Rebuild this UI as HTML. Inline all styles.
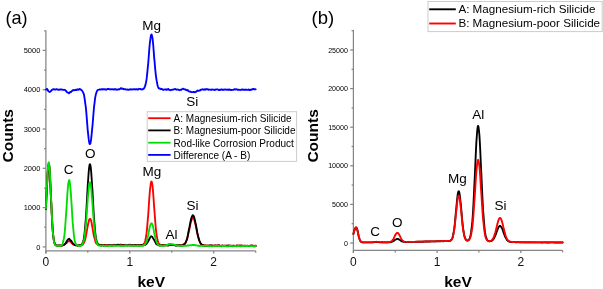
<!DOCTYPE html>
<html><head><meta charset="utf-8"><title>EDS spectra</title>
<style>html,body{margin:0;padding:0;background:#fff}svg{display:block}</style></head>
<body>
<svg width="603" height="289" viewBox="0 0 603 289" font-family="'Liberation Sans', sans-serif">
<rect width="603" height="289" fill="#fff"/>
<g stroke="#858585" stroke-width="1.25" fill="none">
<path d="M45.9,30.4V253.4"/>
<path d="M45.9,250.8H255.7"/>
<path d="M42.7,246.9H45.9"/>
<path d="M42.7,207.6H45.9"/>
<path d="M42.7,168.3H45.9"/>
<path d="M42.7,129.0H45.9"/>
<path d="M42.7,89.7H45.9"/>
<path d="M42.7,50.4H45.9"/>
<path d="M44.1,227.2H45.9"/>
<path d="M44.1,188.0H45.9"/>
<path d="M44.1,148.7H45.9"/>
<path d="M44.1,109.4H45.9"/>
<path d="M44.1,70.1H45.9"/>
<path d="M44.1,30.8H45.9"/>
<path d="M45.9,250.8V253.4"/>
<path d="M129.8,250.8V253.4"/>
<path d="M213.7,250.8V253.4"/>
<path d="M87.8,250.8V252.8"/>
<path d="M171.8,250.8V252.8"/>
<path d="M255.7,250.8V252.8"/>
</g>
<g font-size="7.5" fill="#000" text-anchor="end">
<text x="40.4" y="249.6">0</text>
<text x="40.4" y="210.3">1000</text>
<text x="40.4" y="171.0">2000</text>
<text x="40.4" y="131.7">3000</text>
<text x="40.4" y="92.4">4000</text>
<text x="40.4" y="53.1">5000</text>
</g>
<g font-size="12" fill="#111" text-anchor="middle">
<text x="45.9" y="266.0">0</text>
<text x="129.8" y="266.0">1</text>
<text x="213.7" y="266.0">2</text>
</g>
<g stroke="#858585" stroke-width="1.25" fill="none">
<path d="M353.4,29.9V253.0"/>
<path d="M353.4,250.4H562.6"/>
<path d="M350.2,243.0H353.4"/>
<path d="M350.2,204.4H353.4"/>
<path d="M350.2,165.8H353.4"/>
<path d="M350.2,127.2H353.4"/>
<path d="M350.2,88.6H353.4"/>
<path d="M350.2,50.0H353.4"/>
<path d="M351.6,223.7H353.4"/>
<path d="M351.6,185.1H353.4"/>
<path d="M351.6,146.5H353.4"/>
<path d="M351.6,107.9H353.4"/>
<path d="M351.6,69.3H353.4"/>
<path d="M351.6,30.7H353.4"/>
<path d="M353.4,250.4V253.0"/>
<path d="M437.1,250.4V253.0"/>
<path d="M520.8,250.4V253.0"/>
<path d="M395.2,250.4V252.4"/>
<path d="M478.9,250.4V252.4"/>
<path d="M562.6,250.4V252.4"/>
</g>
<g font-size="7.1" fill="#000" text-anchor="end">
<text x="347.9" y="245.6">0</text>
<text x="347.9" y="207.0">5000</text>
<text x="347.9" y="168.4">10000</text>
<text x="347.9" y="129.8">15000</text>
<text x="347.9" y="91.2">20000</text>
<text x="347.9" y="52.6">25000</text>
</g>
<g font-size="12" fill="#111" text-anchor="middle">
<text x="353.4" y="266.0">0</text>
<text x="437.1" y="266.0">1</text>
<text x="520.8" y="266.0">2</text>
</g>
<polyline points="45.9,209.0 46.3,200.4 46.7,191.1 47.2,182.5 47.6,175.1 48.0,169.3 48.4,165.8 48.8,164.5 49.3,166.5 49.7,171.3 50.1,178.6 50.5,187.3 50.9,196.7 51.4,206.0 51.8,214.6 52.2,222.2 52.6,228.5 53.0,233.7 53.5,237.5 53.9,240.3 54.3,242.1 54.7,243.5 55.1,244.4 55.5,244.9 56.0,245.0 56.4,245.2 56.8,245.3 57.2,245.4 57.6,245.5 58.1,245.5 58.5,245.5 58.9,245.4 59.3,245.4 59.7,245.4 60.2,245.7 60.6,245.6 61.0,245.7 61.4,245.6 61.8,245.6 62.3,245.4 62.7,245.3 63.1,245.3 63.5,245.2 63.9,245.0 64.4,244.6 64.8,244.3 65.2,244.0 65.6,243.6 66.0,243.3 66.5,243.0 66.9,242.6 67.3,242.1 67.7,241.6 68.1,241.5 68.6,241.3 69.0,241.4 69.4,241.2 69.8,241.3 70.2,241.5 70.7,241.9 71.1,242.4 71.5,242.6 71.9,243.2 72.3,243.6 72.7,244.0 73.2,244.1 73.6,244.5 74.0,244.8 74.4,245.1 74.8,245.1 75.3,245.0 75.7,245.2 76.1,245.2 76.5,245.4 76.9,245.2 77.4,245.3 77.8,245.2 78.2,245.5 78.6,245.3 79.0,245.2 79.5,245.0 79.9,245.0 80.3,245.0 80.7,245.1 81.1,245.2 81.6,245.2 82.0,244.9 82.4,244.7 82.8,244.4 83.2,244.1 83.7,243.3 84.1,242.4 84.5,241.5 84.9,240.4 85.3,238.9 85.8,236.9 86.2,234.6 86.6,232.4 87.0,230.1 87.4,227.8 87.8,225.5 88.3,223.2 88.7,221.5 89.1,220.0 89.5,219.2 89.9,218.8 90.4,219.1 90.8,219.7 91.2,221.0 91.6,222.7 92.0,225.3 92.5,227.8 92.9,230.4 93.3,232.5 93.7,235.0 94.1,236.8 94.6,238.6 95.0,240.0 95.4,241.4 95.8,242.6 96.2,243.3 96.7,243.7 97.1,243.9 97.5,244.2 97.9,244.4 98.3,244.8 98.8,244.7 99.2,244.7 99.6,244.7 100.0,244.9 100.4,245.0 100.9,245.2 101.3,245.0 101.7,244.9 102.1,244.9 102.5,245.1 103.0,245.1 103.4,245.1 103.8,245.1 104.2,245.1 104.6,244.9 105.0,244.8 105.5,244.9 105.9,245.2 106.3,245.3 106.7,245.2 107.1,245.0 107.6,244.9 108.0,244.9 108.4,245.0 108.8,245.0 109.2,245.1 109.7,245.2 110.1,245.2 110.5,245.1 110.9,245.1 111.3,245.2 111.8,245.1 112.2,245.0 112.6,245.0 113.0,245.0 113.4,245.0 113.9,244.9 114.3,244.7 114.7,245.0 115.1,244.9 115.5,245.1 116.0,244.9 116.4,244.9 116.8,244.8 117.2,244.7 117.6,244.8 118.1,244.7 118.5,244.8 118.9,244.8 119.3,244.9 119.7,244.9 120.2,244.7 120.6,244.7 121.0,244.5 121.4,244.7 121.8,244.8 122.2,245.0 122.7,244.9 123.1,244.9 123.5,244.9 123.9,245.0 124.3,244.8 124.8,244.9 125.2,244.8 125.6,245.0 126.0,245.0 126.4,245.1 126.9,245.2 127.3,245.1 127.7,244.9 128.1,244.8 128.5,244.8 129.0,244.7 129.4,244.7 129.8,244.7 130.2,244.9 130.6,245.1 131.1,245.0 131.5,245.2 131.9,245.0 132.3,245.0 132.7,244.8 133.2,244.8 133.6,244.9 134.0,245.0 134.4,245.0 134.8,245.0 135.3,245.0 135.7,245.0 136.1,245.0 136.5,245.0 136.9,245.1 137.4,245.2 137.8,245.2 138.2,245.3 138.6,245.0 139.0,244.8 139.4,244.9 139.9,245.0 140.3,245.1 140.7,245.0 141.1,245.0 141.5,245.0 142.0,245.0 142.4,245.0 142.8,244.8 143.2,244.4 143.6,244.2 144.1,243.6 144.5,242.8 144.9,241.7 145.3,240.4 145.7,238.5 146.2,236.0 146.6,232.6 147.0,228.8 147.4,224.3 147.8,219.4 148.3,213.8 148.7,207.6 149.1,201.5 149.5,195.8 149.9,190.8 150.4,186.5 150.8,183.2 151.2,181.7 151.6,181.4 152.0,183.0 152.5,185.7 152.9,189.9 153.3,194.8 153.7,200.5 154.1,206.4 154.6,212.6 155.0,218.4 155.4,223.6 155.8,228.0 156.2,231.8 156.6,235.1 157.1,237.7 157.5,239.8 157.9,241.4 158.3,242.6 158.7,243.4 159.2,243.9 159.6,244.3 160.0,244.5 160.4,244.7 160.8,244.9 161.3,244.8 161.7,244.8 162.1,244.9 162.5,245.1 162.9,245.0 163.4,245.2 163.8,245.1 164.2,245.1 164.6,245.0 165.0,244.9 165.5,244.9 165.9,244.9 166.3,245.0 166.7,245.2 167.1,245.1 167.6,245.0 168.0,244.9 168.4,244.6 168.8,244.8 169.2,244.6 169.7,244.7 170.1,244.9 170.5,245.0 170.9,245.0 171.3,244.9 171.8,245.0 172.2,245.0 172.6,245.0 173.0,245.1 173.4,245.2 173.8,245.1 174.3,245.0 174.7,244.9 175.1,244.9 175.5,244.9 175.9,245.1 176.4,245.4 176.8,245.4 177.2,245.2 177.6,245.1 178.0,245.1 178.5,245.2 178.9,245.2 179.3,245.3 179.7,245.3 180.1,245.4 180.6,245.5 181.0,245.5 181.4,245.5 181.8,245.4 182.2,245.2 182.7,245.0 183.1,244.5 183.5,244.3 183.9,244.1 184.3,244.0 184.8,243.6 185.2,243.1 185.6,242.4 186.0,241.7 186.4,240.9 186.9,239.8 187.3,238.4 187.7,236.5 188.1,234.9 188.5,233.1 188.9,231.2 189.4,229.2 189.8,227.0 190.2,225.1 190.6,223.1 191.0,221.5 191.5,220.2 191.9,219.0 192.3,218.3 192.7,217.9 193.1,218.0 193.6,218.1 194.0,219.0 194.4,220.4 194.8,222.0 195.2,223.7 195.7,225.5 196.1,227.6 196.5,229.5 196.9,231.5 197.3,233.5 197.8,235.7 198.2,237.4 198.6,238.7 199.0,239.9 199.4,241.0 199.9,242.2 200.3,242.9 200.7,243.5 201.1,244.0 201.5,244.4 202.0,244.7 202.4,244.8 202.8,245.1 203.2,245.1 203.6,245.2 204.1,245.2 204.5,245.5 204.9,245.6 205.3,245.5 205.7,245.5 206.1,245.4 206.6,245.4 207.0,245.3 207.4,245.3 207.8,245.4 208.2,245.7 208.7,245.7 209.1,245.7 209.5,245.5 209.9,245.5 210.3,245.6 210.8,245.6 211.2,245.8 211.6,245.6 212.0,245.6 212.4,245.5 212.9,245.8 213.3,245.8 213.7,245.6 214.1,245.5 214.5,245.5 215.0,245.5 215.4,245.5 215.8,245.3 216.2,245.4 216.6,245.4 217.1,245.4 217.5,245.4 217.9,245.6 218.3,245.5 218.7,245.6 219.2,245.3 219.6,245.7 220.0,245.6 220.4,245.7 220.8,245.6 221.3,245.6 221.7,245.6 222.1,245.5 222.5,245.6 222.9,245.7 223.3,245.7 223.8,245.5 224.2,245.5 224.6,245.6 225.0,245.7 225.4,245.6 225.9,245.7 226.3,245.8 226.7,245.9 227.1,245.9 227.5,245.9 228.0,245.9 228.4,245.7 228.8,245.8 229.2,245.7 229.6,245.9 230.1,245.8 230.5,246.0 230.9,246.0 231.3,246.0 231.7,245.9 232.2,245.8 232.6,245.9 233.0,245.8 233.4,245.8 233.8,245.7 234.3,245.7 234.7,245.7 235.1,245.8 235.5,245.9 235.9,245.8 236.4,245.6 236.8,245.5 237.2,245.6 237.6,245.7 238.0,245.7 238.5,245.8 238.9,245.7 239.3,245.7 239.7,245.7 240.1,245.8 240.5,245.9 241.0,245.7 241.4,245.4 241.8,245.4 242.2,245.6 242.6,246.0 243.1,246.0 243.5,246.0 243.9,245.9 244.3,245.8 244.7,246.0 245.2,245.9 245.6,246.0 246.0,245.9 246.4,245.9 246.8,245.8 247.3,245.8 247.7,246.0 248.1,246.0 248.5,245.9 248.9,245.9 249.4,246.0 249.8,246.0 250.2,245.9 250.6,245.8 251.0,245.7 251.5,245.6 251.9,245.5 252.3,245.5 252.7,245.6 253.1,245.6 253.6,245.6 254.0,245.8 254.4,245.8 254.8,245.9 255.2,245.6 255.7,245.7" fill="none" stroke="#ff0000" stroke-width="1.85" stroke-linejoin="round" stroke-linecap="round"/>
<polyline points="45.9,208.6 46.3,199.7 46.7,190.7 47.2,182.0 47.6,174.3 48.0,168.4 48.4,164.8 48.8,163.8 49.3,166.0 49.7,170.8 50.1,178.1 50.5,186.7 50.9,196.2 51.4,205.7 51.8,214.5 52.2,222.2 52.6,228.6 53.0,233.8 53.5,237.8 53.9,240.6 54.3,242.3 54.7,243.5 55.1,244.4 55.5,245.0 56.0,245.4 56.4,245.6 56.8,245.7 57.2,245.7 57.6,245.7 58.1,245.8 58.5,245.7 58.9,245.5 59.3,245.4 59.7,245.5 60.2,245.6 60.6,245.5 61.0,245.7 61.4,245.5 61.8,245.6 62.3,245.3 62.7,245.3 63.1,245.2 63.5,245.1 63.9,244.8 64.4,244.6 64.8,244.2 65.2,243.8 65.6,243.4 66.0,242.6 66.5,241.8 66.9,241.0 67.3,240.4 67.7,239.9 68.1,239.4 68.6,239.0 69.0,238.7 69.4,238.9 69.8,239.6 70.2,240.1 70.7,240.3 71.1,240.7 71.5,241.2 71.9,241.9 72.3,242.6 72.7,243.2 73.2,243.7 73.6,244.0 74.0,244.4 74.4,244.8 74.8,245.0 75.3,245.3 75.7,245.2 76.1,245.1 76.5,245.2 76.9,245.5 77.4,245.8 77.8,245.7 78.2,245.4 78.6,245.3 79.0,245.4 79.5,245.5 79.9,245.5 80.3,245.4 80.7,245.1 81.1,245.0 81.6,244.6 82.0,244.1 82.4,243.3 82.8,242.4 83.2,241.2 83.7,239.4 84.1,237.0 84.5,233.8 84.9,229.8 85.3,225.1 85.8,219.7 86.2,213.5 86.6,206.6 87.0,199.2 87.4,191.7 87.8,184.3 88.3,177.7 88.7,172.0 89.1,167.9 89.5,165.2 89.9,164.2 90.4,165.1 90.8,167.8 91.2,172.0 91.6,177.5 92.0,184.2 92.5,191.3 92.9,198.7 93.3,206.2 93.7,213.3 94.1,219.7 94.6,225.2 95.0,230.1 95.4,233.9 95.8,237.1 96.2,239.3 96.7,241.2 97.1,242.4 97.5,243.4 97.9,244.2 98.3,244.6 98.8,244.8 99.2,245.0 99.6,245.0 100.0,245.2 100.4,245.2 100.9,245.3 101.3,245.4 101.7,245.2 102.1,245.4 102.5,245.3 103.0,245.5 103.4,245.5 103.8,245.5 104.2,245.4 104.6,245.3 105.0,245.4 105.5,245.4 105.9,245.5 106.3,245.6 106.7,245.6 107.1,245.6 107.6,245.5 108.0,245.5 108.4,245.5 108.8,245.4 109.2,245.3 109.7,245.1 110.1,245.0 110.5,245.2 110.9,245.3 111.3,245.5 111.8,245.6 112.2,245.7 112.6,245.6 113.0,245.5 113.4,245.2 113.9,245.0 114.3,245.2 114.7,245.3 115.1,245.5 115.5,245.3 116.0,245.4 116.4,245.2 116.8,245.0 117.2,244.9 117.6,244.8 118.1,245.0 118.5,245.1 118.9,245.2 119.3,245.1 119.7,245.1 120.2,245.2 120.6,245.5 121.0,245.5 121.4,245.4 121.8,245.3 122.2,245.3 122.7,245.5 123.1,245.5 123.5,245.4 123.9,245.2 124.3,245.2 124.8,245.4 125.2,245.3 125.6,245.3 126.0,245.2 126.4,245.3 126.9,245.5 127.3,245.5 127.7,245.5 128.1,245.3 128.5,245.2 129.0,245.1 129.4,245.3 129.8,245.5 130.2,245.5 130.6,245.3 131.1,245.4 131.5,245.6 131.9,245.5 132.3,245.4 132.7,245.2 133.2,245.5 133.6,245.3 134.0,245.6 134.4,245.5 134.8,245.4 135.3,245.2 135.7,245.1 136.1,245.4 136.5,245.3 136.9,245.4 137.4,245.3 137.8,245.4 138.2,245.4 138.6,245.3 139.0,245.5 139.4,245.4 139.9,245.5 140.3,245.4 140.7,245.3 141.1,245.2 141.5,245.2 142.0,245.3 142.4,245.4 142.8,245.4 143.2,245.3 143.6,245.2 144.1,245.1 144.5,245.0 144.9,244.9 145.3,244.7 145.7,244.5 146.2,244.1 146.6,243.6 147.0,243.1 147.4,242.5 147.8,242.0 148.3,241.2 148.7,240.5 149.1,239.5 149.5,238.8 149.9,237.9 150.4,237.1 150.8,236.6 151.2,236.3 151.6,236.5 152.0,236.7 152.5,237.2 152.9,238.0 153.3,238.6 153.7,239.2 154.1,239.8 154.6,240.7 155.0,241.5 155.4,242.3 155.8,243.0 156.2,243.8 156.6,244.3 157.1,244.6 157.5,244.6 157.9,244.8 158.3,245.0 158.7,245.4 159.2,245.4 159.6,245.6 160.0,245.5 160.4,245.5 160.8,245.3 161.3,245.3 161.7,245.4 162.1,245.6 162.5,245.6 162.9,245.3 163.4,245.3 163.8,245.4 164.2,245.5 164.6,245.3 165.0,245.3 165.5,245.3 165.9,245.3 166.3,245.3 166.7,245.2 167.1,245.3 167.6,245.6 168.0,245.6 168.4,245.5 168.8,245.2 169.2,245.0 169.7,244.8 170.1,244.9 170.5,244.9 170.9,244.8 171.3,244.9 171.8,244.8 172.2,244.9 172.6,244.8 173.0,244.8 173.4,245.0 173.8,245.0 174.3,245.2 174.7,245.3 175.1,245.5 175.5,245.4 175.9,245.5 176.4,245.4 176.8,245.6 177.2,245.4 177.6,245.3 178.0,245.2 178.5,245.2 178.9,245.3 179.3,245.1 179.7,245.2 180.1,245.4 180.6,245.5 181.0,245.5 181.4,245.4 181.8,245.5 182.2,245.6 182.7,245.4 183.1,245.3 183.5,244.8 183.9,244.5 184.3,244.1 184.8,243.9 185.2,243.5 185.6,242.7 186.0,241.7 186.4,240.5 186.9,239.2 187.3,237.7 187.7,236.0 188.1,233.9 188.5,231.7 188.9,229.5 189.4,227.4 189.8,225.3 190.2,223.1 190.6,221.2 191.0,219.2 191.5,217.8 191.9,216.6 192.3,215.8 192.7,215.2 193.1,215.3 193.6,215.9 194.0,216.8 194.4,218.0 194.8,219.7 195.2,221.6 195.7,223.7 196.1,225.7 196.5,227.9 196.9,230.2 197.3,232.7 197.8,234.8 198.2,236.4 198.6,237.8 199.0,239.2 199.4,240.6 199.9,241.8 200.3,242.7 200.7,243.4 201.1,243.8 201.5,244.4 202.0,244.8 202.4,245.2 202.8,245.2 203.2,245.4 203.6,245.5 204.1,245.7 204.5,245.6 204.9,245.6 205.3,245.6 205.7,245.8 206.1,245.9 206.6,245.8 207.0,245.8 207.4,245.8 207.8,245.9 208.2,245.6 208.7,245.6 209.1,245.6 209.5,245.6 209.9,245.5 210.3,245.6 210.8,245.5 211.2,245.6 211.6,245.4 212.0,245.7 212.4,245.6 212.9,245.9 213.3,245.9 213.7,245.9 214.1,245.9 214.5,245.7 215.0,245.9 215.4,245.7 215.8,245.7 216.2,245.7 216.6,245.8 217.1,245.8 217.5,245.7 217.9,245.7 218.3,245.6 218.7,245.4 219.2,245.5 219.6,245.7 220.0,245.8 220.4,245.9 220.8,246.1 221.3,246.2 221.7,246.2 222.1,245.8 222.5,245.7 222.9,245.7 223.3,246.0 223.8,245.9 224.2,245.9 224.6,245.9 225.0,245.9 225.4,245.8 225.9,245.8 226.3,245.8 226.7,245.6 227.1,245.5 227.5,245.7 228.0,245.6 228.4,245.7 228.8,245.4 229.2,245.7 229.6,245.7 230.1,245.8 230.5,245.7 230.9,245.7 231.3,245.7 231.7,245.8 232.2,245.8 232.6,245.8 233.0,245.7 233.4,245.7 233.8,245.8 234.3,245.9 234.7,246.0 235.1,246.0 235.5,245.9 235.9,245.8 236.4,245.7 236.8,245.9 237.2,245.8 237.6,245.6 238.0,245.6 238.5,245.6 238.9,245.9 239.3,245.7 239.7,245.7 240.1,245.7 240.5,245.7 241.0,245.8 241.4,245.6 241.8,245.7 242.2,245.8 242.6,245.9 243.1,245.9 243.5,245.8 243.9,245.9 244.3,245.7 244.7,245.8 245.2,245.7 245.6,246.0 246.0,245.9 246.4,245.8 246.8,245.7 247.3,245.7 247.7,245.9 248.1,245.9 248.5,246.1 248.9,245.9 249.4,245.8 249.8,246.0 250.2,245.7 250.6,245.8 251.0,245.6 251.5,245.8 251.9,245.7 252.3,245.7 252.7,246.0 253.1,246.2 253.6,246.2 254.0,246.0 254.4,246.0 254.8,246.3 255.2,246.1 255.7,245.9" fill="none" stroke="#000000" stroke-width="1.85" stroke-linejoin="round" stroke-linecap="round"/>
<polyline points="45.9,208.2 46.3,199.1 46.7,189.7 47.2,180.6 47.6,172.6 48.0,166.6 48.4,163.1 48.8,162.3 49.3,164.5 49.7,169.6 50.1,176.8 50.5,185.6 50.9,195.1 51.4,204.8 51.8,213.9 52.2,221.8 52.6,228.5 53.0,233.7 53.5,237.7 53.9,240.7 54.3,242.9 54.7,244.2 55.1,245.1 55.5,245.3 56.0,245.6 56.4,245.7 56.8,245.9 57.2,245.8 57.6,245.7 58.1,245.7 58.5,245.8 58.9,245.9 59.3,245.9 59.7,245.9 60.2,245.8 60.6,245.7 61.0,245.7 61.4,245.6 61.8,245.4 62.3,244.7 62.7,243.6 63.1,242.0 63.5,240.3 63.9,238.2 64.4,235.2 64.8,231.3 65.2,226.6 65.6,221.1 66.0,215.1 66.5,208.3 66.9,201.7 67.3,195.2 67.7,189.5 68.1,184.9 68.6,181.7 69.0,180.2 69.4,180.2 69.8,182.3 70.2,185.9 70.7,190.9 71.1,196.7 71.5,202.9 71.9,209.5 72.3,216.2 72.7,222.4 73.2,227.8 73.6,232.1 74.0,235.9 74.4,238.8 74.8,241.0 75.3,242.5 75.7,243.7 76.1,244.4 76.5,244.9 76.9,245.1 77.4,245.4 77.8,245.5 78.2,245.6 78.6,245.8 79.0,245.7 79.5,245.8 79.9,245.8 80.3,245.7 80.7,245.7 81.1,245.4 81.6,245.1 82.0,244.7 82.4,244.2 82.8,243.4 83.2,242.3 83.7,241.0 84.1,239.4 84.5,236.9 84.9,233.7 85.3,230.1 85.8,226.0 86.2,221.2 86.6,215.7 87.0,209.8 87.4,204.0 87.8,198.2 88.3,193.2 88.7,188.8 89.1,185.3 89.5,183.1 89.9,182.3 90.4,183.1 90.8,185.1 91.2,188.6 91.6,193.2 92.0,198.5 92.5,204.1 92.9,209.7 93.3,215.2 93.7,220.5 94.1,225.4 94.6,229.9 95.0,233.7 95.4,236.8 95.8,239.2 96.2,240.9 96.7,242.5 97.1,243.7 97.5,244.6 97.9,244.9 98.3,245.4 98.8,245.5 99.2,245.6 99.6,245.6 100.0,245.5 100.4,245.7 100.9,245.9 101.3,246.0 101.7,245.7 102.1,245.4 102.5,245.5 103.0,245.6 103.4,245.7 103.8,245.8 104.2,245.9 104.6,245.9 105.0,245.8 105.5,245.6 105.9,245.8 106.3,245.8 106.7,245.8 107.1,245.7 107.6,245.8 108.0,246.0 108.4,246.0 108.8,245.8 109.2,245.6 109.7,245.5 110.1,245.7 110.5,245.7 110.9,245.7 111.3,245.7 111.8,245.8 112.2,245.8 112.6,245.6 113.0,245.6 113.4,245.6 113.9,245.5 114.3,245.6 114.7,245.7 115.1,245.8 115.5,245.7 116.0,245.6 116.4,245.7 116.8,245.7 117.2,245.7 117.6,245.7 118.1,245.6 118.5,245.8 118.9,245.8 119.3,245.9 119.7,245.8 120.2,245.7 120.6,245.7 121.0,245.7 121.4,245.8 121.8,245.8 122.2,245.9 122.7,246.0 123.1,246.0 123.5,245.9 123.9,245.8 124.3,245.7 124.8,245.6 125.2,245.4 125.6,245.4 126.0,245.5 126.4,245.5 126.9,245.5 127.3,245.5 127.7,245.6 128.1,245.6 128.5,245.6 129.0,245.5 129.4,245.6 129.8,245.5 130.2,245.6 130.6,245.6 131.1,245.7 131.5,245.6 131.9,245.8 132.3,245.8 132.7,245.7 133.2,245.5 133.6,245.5 134.0,245.6 134.4,245.7 134.8,245.8 135.3,245.9 135.7,245.8 136.1,245.7 136.5,245.7 136.9,245.6 137.4,245.8 137.8,245.8 138.2,245.9 138.6,245.7 139.0,245.7 139.4,245.9 139.9,245.9 140.3,245.9 140.7,245.8 141.1,245.9 141.5,245.9 142.0,245.8 142.4,245.6 142.8,245.7 143.2,245.4 143.6,245.3 144.1,245.0 144.5,244.9 144.9,244.5 145.3,243.8 145.7,243.0 146.2,242.2 146.6,241.3 147.0,240.1 147.4,238.5 147.8,236.6 148.3,234.6 148.7,232.3 149.1,230.2 149.5,228.2 149.9,226.4 150.4,225.0 150.8,224.0 151.2,223.5 151.6,223.2 152.0,223.6 152.5,224.6 152.9,226.1 153.3,227.9 153.7,230.1 154.1,232.4 154.6,234.3 155.0,236.3 155.4,238.1 155.8,239.7 156.2,241.0 156.6,242.1 157.1,243.2 157.5,244.1 157.9,244.7 158.3,245.0 158.7,245.2 159.2,245.3 159.6,245.4 160.0,245.5 160.4,245.4 160.8,245.3 161.3,245.6 161.7,245.7 162.1,245.9 162.5,245.9 162.9,245.9 163.4,245.8 163.8,245.7 164.2,245.6 164.6,245.6 165.0,245.5 165.5,245.5 165.9,245.3 166.3,245.0 166.7,245.1 167.1,245.1 167.6,245.0 168.0,244.6 168.4,244.3 168.8,244.1 169.2,244.0 169.7,244.0 170.1,244.0 170.5,244.0 170.9,244.0 171.3,244.1 171.8,244.1 172.2,244.2 172.6,244.3 173.0,244.4 173.4,244.3 173.8,244.6 174.3,244.8 174.7,244.9 175.1,244.9 175.5,245.1 175.9,245.3 176.4,245.4 176.8,245.4 177.2,245.5 177.6,245.4 178.0,245.5 178.5,245.5 178.9,245.9 179.3,246.0 179.7,245.8 180.1,245.8 180.6,245.8 181.0,246.0 181.4,246.0 181.8,245.9 182.2,245.8 182.7,245.8 183.1,245.9 183.5,245.8 183.9,245.8 184.3,245.7 184.8,245.8 185.2,245.8 185.6,245.8 186.0,245.8 186.4,245.8 186.9,245.7 187.3,245.5 187.7,245.4 188.1,245.4 188.5,245.5 188.9,245.5 189.4,245.4 189.8,245.3 190.2,245.1 190.6,245.1 191.0,245.2 191.5,245.3 191.9,245.1 192.3,245.1 192.7,244.9 193.1,245.1 193.6,245.0 194.0,245.1 194.4,244.9 194.8,245.1 195.2,245.1 195.7,245.3 196.1,245.3 196.5,245.4 196.9,245.5 197.3,245.5 197.8,245.7 198.2,245.7 198.6,245.7 199.0,245.7 199.4,245.9 199.9,246.0 200.3,246.0 200.7,245.8 201.1,245.8 201.5,245.7 202.0,245.8 202.4,245.9 202.8,246.0 203.2,246.1 203.6,246.0 204.1,245.9 204.5,245.9 204.9,245.9 205.3,245.8 205.7,245.7 206.1,245.7 206.6,245.9 207.0,245.9 207.4,245.9 207.8,246.0 208.2,246.2 208.7,246.0 209.1,246.2 209.5,246.1 209.9,246.1 210.3,246.0 210.8,246.1 211.2,246.1 211.6,246.2 212.0,246.1 212.4,246.3 212.9,246.3 213.3,246.2 213.7,246.0 214.1,245.9 214.5,245.9 215.0,245.9 215.4,246.0 215.8,246.1 216.2,245.9 216.6,245.9 217.1,245.8 217.5,246.0 217.9,246.0 218.3,246.0 218.7,246.0 219.2,246.0 219.6,246.1 220.0,246.2 220.4,246.1 220.8,246.0 221.3,245.8 221.7,245.9 222.1,246.0 222.5,246.0 222.9,246.0 223.3,246.1 223.8,246.0 224.2,246.0 224.6,245.8 225.0,245.9 225.4,246.1 225.9,246.2 226.3,246.2 226.7,246.2 227.1,246.4 227.5,246.3 228.0,246.4 228.4,246.3 228.8,246.2 229.2,245.9 229.6,245.9 230.1,246.0 230.5,245.9 230.9,245.9 231.3,245.8 231.7,246.1 232.2,246.1 232.6,246.3 233.0,246.1 233.4,246.1 233.8,246.1 234.3,246.1 234.7,246.0 235.1,245.9 235.5,245.9 235.9,246.0 236.4,246.1 236.8,246.3 237.2,246.2 237.6,246.0 238.0,245.9 238.5,245.9 238.9,246.1 239.3,246.1 239.7,246.1 240.1,246.2 240.5,246.4 241.0,246.4 241.4,246.3 241.8,246.0 242.2,246.0 242.6,246.0 243.1,246.2 243.5,246.1 243.9,246.1 244.3,245.9 244.7,246.1 245.2,245.8 245.6,245.9 246.0,245.9 246.4,246.0 246.8,246.1 247.3,245.9 247.7,246.0 248.1,245.8 248.5,245.9 248.9,245.9 249.4,246.1 249.8,246.1 250.2,246.1 250.6,246.1 251.0,246.0 251.5,246.0 251.9,246.1 252.3,246.1 252.7,246.1 253.1,246.1 253.6,246.1 254.0,246.0 254.4,246.1 254.8,246.3 255.2,246.3 255.7,246.0" fill="none" stroke="#00dd00" stroke-width="1.85" stroke-linejoin="round" stroke-linecap="round"/>
<polyline points="45.9,89.6 46.3,89.5 46.7,88.9 47.2,89.0 47.6,89.8 48.0,90.5 48.4,91.2 48.8,91.5 49.3,91.8 49.7,92.0 50.1,91.8 50.5,91.5 50.9,91.0 51.4,90.5 51.8,90.1 52.2,89.8 52.6,89.5 53.0,89.5 53.5,89.2 53.9,89.1 54.3,89.3 54.7,89.6 55.1,89.7 55.5,89.5 56.0,89.2 56.4,89.2 56.8,89.2 57.2,89.4 57.6,89.6 58.1,89.7 58.5,89.7 58.9,89.8 59.3,89.8 59.7,89.5 60.2,89.5 60.6,89.4 61.0,89.4 61.4,89.5 61.8,89.5 62.3,89.7 62.7,89.6 63.1,89.8 63.5,89.8 63.9,89.9 64.4,89.8 64.8,90.0 65.2,90.1 65.6,90.4 66.0,91.0 66.5,91.5 66.9,92.1 67.3,92.3 67.7,92.5 68.1,92.7 68.6,92.8 69.0,93.3 69.4,92.8 69.8,92.3 70.2,91.9 70.7,92.1 71.1,92.1 71.5,91.4 71.9,91.2 72.3,90.7 72.7,90.5 73.2,90.0 73.6,90.2 74.0,90.4 74.4,90.2 74.8,90.1 75.3,89.7 75.7,90.0 76.1,90.0 76.5,90.1 76.9,89.6 77.4,89.3 77.8,89.4 78.2,89.9 78.6,89.8 79.0,89.5 79.5,89.0 79.9,89.1 80.3,89.1 80.7,89.6 81.1,89.9 81.6,90.3 82.0,90.4 82.4,91.2 82.8,91.9 83.2,92.7 83.7,93.8 84.1,95.3 84.5,97.8 84.9,100.5 85.3,103.7 85.8,107.2 86.2,111.0 86.6,115.8 87.0,120.9 87.4,126.1 87.8,131.2 88.3,135.3 88.7,139.2 89.1,141.8 89.5,143.8 89.9,144.2 90.4,143.5 90.8,141.4 91.2,138.4 91.6,134.6 92.0,130.4 92.5,125.7 92.9,120.9 93.3,115.7 93.7,110.9 94.1,106.4 94.6,102.6 95.0,98.9 95.4,96.7 95.8,94.6 96.2,93.2 96.7,91.7 97.1,90.9 97.5,90.3 97.9,89.8 98.3,89.8 98.8,89.7 99.2,89.6 99.6,89.4 100.0,89.5 100.4,89.4 100.9,89.6 101.3,89.3 101.7,89.4 102.1,89.2 102.5,89.5 103.0,89.3 103.4,89.2 103.8,89.2 104.2,89.5 104.6,89.3 105.0,89.1 105.5,89.4 105.9,89.6 106.3,89.7 106.7,89.4 107.1,89.1 107.6,89.0 108.0,88.9 108.4,89.0 108.8,88.9 109.2,89.1 109.7,89.3 110.1,89.5 110.5,89.3 110.9,89.2 111.3,89.1 111.8,89.3 112.2,89.3 112.6,89.2 113.0,89.3 113.4,89.6 113.9,89.6 114.3,89.1 114.7,89.2 115.1,89.0 115.5,89.5 116.0,89.3 116.4,89.7 116.8,89.6 117.2,89.5 117.6,89.7 118.1,89.5 118.5,89.4 118.9,89.1 119.3,89.4 119.7,89.3 120.2,88.9 120.6,88.4 121.0,88.2 121.4,88.4 121.8,88.6 122.2,88.9 122.7,88.7 123.1,88.9 123.5,89.0 123.9,89.3 124.3,89.1 124.8,89.1 125.2,89.1 125.6,89.3 126.0,89.5 126.4,89.6 126.9,89.7 127.3,89.6 127.7,89.4 128.1,89.7 128.5,89.7 129.0,89.7 129.4,89.4 129.8,89.4 130.2,89.3 130.6,89.6 131.1,89.5 131.5,89.5 131.9,89.3 132.3,89.4 132.7,89.5 133.2,89.3 133.6,89.4 134.0,89.2 134.4,89.4 134.8,89.3 135.3,89.5 135.7,89.4 136.1,89.1 136.5,89.4 136.9,89.3 137.4,89.6 137.8,89.4 138.2,89.6 138.6,89.2 139.0,88.8 139.4,88.9 139.9,88.9 140.3,89.0 140.7,89.1 141.1,89.4 141.5,89.5 142.0,89.4 142.4,89.2 142.8,89.3 143.2,89.1 143.6,88.8 144.1,88.2 144.5,87.5 144.9,86.6 145.3,85.4 145.7,83.7 146.2,81.6 146.6,78.9 147.0,75.6 147.4,71.7 147.8,67.3 148.3,62.6 148.7,57.0 149.1,51.8 149.5,46.7 149.9,42.5 150.4,39.1 150.8,36.1 151.2,34.8 151.6,34.4 152.0,35.8 152.5,38.1 152.9,41.6 153.3,46.0 153.7,51.1 154.1,56.6 154.6,61.9 155.0,66.7 155.4,71.0 155.8,74.8 156.2,77.6 156.6,80.4 157.1,82.8 157.5,85.0 157.9,86.5 158.3,87.5 158.7,88.2 159.2,88.5 159.6,88.4 160.0,88.5 160.4,89.0 160.8,89.2 161.3,89.0 161.7,88.9 162.1,89.1 162.5,89.5 162.9,89.6 163.4,89.9 163.8,89.6 164.2,89.5 164.6,89.6 165.0,89.6 165.5,89.4 165.9,89.3 166.3,89.6 166.7,89.9 167.1,89.7 167.6,89.1 168.0,89.1 168.4,89.0 168.8,89.7 169.2,89.7 169.7,90.0 170.1,90.2 170.5,90.2 170.9,90.1 171.3,89.9 171.8,89.9 172.2,89.6 172.6,89.6 173.0,89.7 173.4,89.6 173.8,89.4 174.3,89.1 174.7,89.1 175.1,89.0 175.5,89.1 175.9,89.4 176.4,89.7 176.8,89.6 177.2,89.6 177.6,89.5 178.0,89.5 178.5,89.8 178.9,89.8 179.3,90.2 179.7,90.0 180.1,90.0 180.6,89.9 181.0,89.7 181.4,89.8 181.8,89.4 182.2,89.0 182.7,88.8 183.1,88.6 183.5,89.0 183.9,89.2 184.3,89.4 184.8,89.4 185.2,89.5 185.6,89.4 186.0,89.9 186.4,90.2 186.9,90.4 187.3,90.4 187.7,90.0 188.1,90.8 188.5,91.1 188.9,91.3 189.4,91.5 189.8,91.5 190.2,91.9 190.6,91.6 191.0,92.0 191.5,92.2 191.9,92.1 192.3,92.1 192.7,92.1 193.1,92.2 193.6,91.8 194.0,91.8 194.4,92.2 194.8,92.3 195.2,92.1 195.7,91.7 196.1,91.7 196.5,91.4 196.9,91.1 197.3,90.5 197.8,90.9 198.2,90.9 198.6,90.9 199.0,90.7 199.4,90.4 199.9,90.5 200.3,90.1 200.7,89.8 201.1,89.9 201.5,89.7 202.0,89.5 202.4,89.2 202.8,89.5 203.2,89.7 203.6,89.5 204.1,89.2 204.5,89.6 204.9,89.8 205.3,89.6 205.7,89.2 206.1,89.1 206.6,89.4 207.0,89.1 207.4,89.2 207.8,89.2 208.2,89.7 208.7,89.8 209.1,89.7 209.5,89.6 209.9,89.6 210.3,89.6 210.8,89.8 211.2,89.7 211.6,89.7 212.0,89.4 212.4,89.6 212.9,89.6 213.3,89.7 213.7,89.8 214.1,89.7 214.5,90.0 215.0,89.7 215.4,89.9 215.8,89.5 216.2,89.5 216.6,89.3 217.1,89.3 217.5,89.4 217.9,89.4 218.3,89.7 218.7,90.0 219.2,89.7 219.6,90.0 220.0,90.0 220.4,89.9 220.8,89.5 221.3,89.3 221.7,89.4 222.1,89.6 222.5,89.8 222.9,90.1 223.3,89.7 223.8,89.6 224.2,89.5 224.6,89.7 225.0,89.6 225.4,89.4 225.9,89.6 226.3,89.7 226.7,89.9 227.1,89.9 227.5,89.7 228.0,89.8 228.4,89.5 228.8,89.7 229.2,89.5 229.6,89.8 230.1,89.7 230.5,89.9 230.9,90.0 231.3,90.1 231.7,89.9 232.2,89.8 232.6,89.8 233.0,89.8 233.4,89.8 233.8,89.7 234.3,89.1 234.7,89.1 235.1,89.1 235.5,89.5 235.9,89.5 236.4,89.3 236.8,89.2 237.2,89.7 237.6,89.8 238.0,90.0 238.5,89.8 238.9,89.6 239.3,89.8 239.7,89.8 240.1,90.0 240.5,90.0 241.0,89.8 241.4,89.6 241.8,89.5 242.2,89.5 242.6,89.8 243.1,89.7 243.5,89.7 243.9,89.7 244.3,89.7 244.7,89.9 245.2,89.9 245.6,89.7 246.0,89.8 246.4,89.6 246.8,89.8 247.3,89.8 247.7,89.8 248.1,89.9 248.5,89.5 248.9,89.9 249.4,90.0 249.8,89.8 250.2,90.1 250.6,89.7 251.0,89.9 251.5,89.5 251.9,89.6 252.3,89.6 252.7,89.0 253.1,89.0 253.6,89.0 254.0,89.3 254.4,89.3 254.8,89.2 255.2,89.2 255.7,89.3" fill="none" stroke="#0000ff" stroke-width="1.85" stroke-linejoin="round" stroke-linecap="round"/>
<polyline points="353.4,234.0 353.8,232.4 354.2,231.0 354.7,229.7 355.1,228.6 355.5,227.9 355.9,227.4 356.3,227.4 356.7,228.0 357.2,229.3 357.6,231.0 358.0,232.9 358.4,234.9 358.8,236.8 359.3,238.3 359.7,239.6 360.1,240.5 360.5,241.2 360.9,241.6 361.4,241.9 361.8,242.1 362.2,242.3 362.6,242.3 363.0,242.3 363.4,242.4 363.9,242.4 364.3,242.4 364.7,242.4 365.1,242.4 365.5,242.4 366.0,242.4 366.4,242.4 366.8,242.4 367.2,242.4 367.6,242.4 368.0,242.4 368.5,242.4 368.9,242.4 369.3,242.4 369.7,242.4 370.1,242.4 370.6,242.4 371.0,242.4 371.4,242.4 371.8,242.3 372.2,242.4 372.7,242.3 373.1,242.2 373.5,242.2 373.9,242.2 374.3,242.1 374.7,242.1 375.2,242.0 375.6,242.0 376.0,241.9 376.4,242.0 376.8,242.0 377.3,242.0 377.7,242.0 378.1,242.0 378.5,242.1 378.9,242.2 379.3,242.3 379.8,242.3 380.2,242.3 380.6,242.3 381.0,242.3 381.4,242.3 381.9,242.2 382.3,242.3 382.7,242.2 383.1,242.3 383.5,242.3 384.0,242.3 384.4,242.3 384.8,242.4 385.2,242.4 385.6,242.4 386.0,242.4 386.5,242.4 386.9,242.4 387.3,242.3 387.7,242.3 388.1,242.3 388.6,242.3 389.0,242.3 389.4,242.3 389.8,242.3 390.2,242.2 390.6,242.1 391.1,242.1 391.5,241.9 391.9,241.8 392.3,241.7 392.7,241.5 393.2,241.2 393.6,241.0 394.0,240.7 394.4,240.4 394.8,240.0 395.2,239.7 395.7,239.5 396.1,239.3 396.5,239.1 396.9,239.0 397.3,238.9 397.8,238.9 398.2,239.0 398.6,239.2 399.0,239.5 399.4,239.7 399.9,240.0 400.3,240.3 400.7,240.6 401.1,240.9 401.5,241.1 401.9,241.4 402.4,241.5 402.8,241.6 403.2,241.7 403.6,241.9 404.0,241.9 404.5,241.9 404.9,241.9 405.3,242.0 405.7,242.0 406.1,242.0 406.5,242.0 407.0,242.0 407.4,242.0 407.8,242.1 408.2,242.1 408.6,242.1 409.1,242.0 409.5,241.9 409.9,241.8 410.3,241.9 410.7,241.9 411.2,241.9 411.6,241.9 412.0,241.9 412.4,241.9 412.8,241.9 413.2,241.8 413.7,241.8 414.1,241.8 414.5,241.9 414.9,241.9 415.3,241.9 415.8,241.9 416.2,241.8 416.6,241.8 417.0,241.7 417.4,241.7 417.8,241.7 418.3,241.7 418.7,241.7 419.1,241.7 419.5,241.7 419.9,241.7 420.4,241.8 420.8,241.8 421.2,241.7 421.6,241.7 422.0,241.7 422.5,241.7 422.9,241.7 423.3,241.7 423.7,241.7 424.1,241.6 424.5,241.6 425.0,241.5 425.4,241.6 425.8,241.5 426.2,241.5 426.6,241.5 427.1,241.6 427.5,241.5 427.9,241.5 428.3,241.4 428.7,241.4 429.1,241.5 429.6,241.4 430.0,241.5 430.4,241.5 430.8,241.4 431.2,241.4 431.7,241.4 432.1,241.4 432.5,241.3 432.9,241.3 433.3,241.4 433.8,241.4 434.2,241.5 434.6,241.4 435.0,241.3 435.4,241.3 435.8,241.3 436.3,241.3 436.7,241.2 437.1,241.2 437.5,241.2 437.9,241.2 438.4,241.2 438.8,241.2 439.2,241.2 439.6,241.2 440.0,241.2 440.4,241.2 440.9,241.2 441.3,241.2 441.7,241.1 442.1,241.1 442.5,241.2 443.0,241.2 443.4,241.2 443.8,241.2 444.2,241.1 444.6,241.1 445.1,241.0 445.5,241.0 445.9,241.0 446.3,241.0 446.7,241.0 447.1,241.0 447.6,241.0 448.0,241.0 448.4,241.0 448.8,240.9 449.2,240.9 449.7,240.9 450.1,240.8 450.5,240.6 450.9,240.3 451.3,239.9 451.7,239.3 452.2,238.5 452.6,237.3 453.0,235.8 453.4,233.8 453.8,231.3 454.3,228.4 454.7,224.9 455.1,220.9 455.5,216.5 455.9,211.8 456.4,207.1 456.8,202.6 457.2,198.5 457.6,195.2 458.0,192.8 458.4,191.4 458.9,191.3 459.3,192.4 459.7,194.6 460.1,197.8 460.5,201.7 461.0,206.1 461.4,210.8 461.8,215.4 462.2,220.0 462.6,224.1 463.0,227.8 463.5,230.8 463.9,233.4 464.3,235.5 464.7,237.1 465.1,238.3 465.6,239.1 466.0,239.8 466.4,240.1 466.8,240.3 467.2,240.5 467.7,240.5 468.1,240.4 468.5,240.2 468.9,239.7 469.3,239.0 469.7,238.1 470.2,236.9 470.6,235.1 471.0,232.9 471.4,230.0 471.8,226.4 472.3,221.9 472.7,216.5 473.1,210.2 473.5,203.0 473.9,194.9 474.3,186.1 474.8,176.8 475.2,167.4 475.6,158.1 476.0,149.4 476.4,141.5 476.9,134.9 477.3,129.9 477.7,126.8 478.1,125.8 478.5,126.9 478.9,130.0 479.4,135.0 479.8,141.6 480.2,149.4 480.6,158.2 481.0,167.5 481.5,177.0 481.9,186.3 482.3,195.1 482.7,203.2 483.1,210.4 483.6,216.7 484.0,222.1 484.4,226.7 484.8,230.4 485.2,233.3 485.6,235.5 486.1,237.2 486.5,238.5 486.9,239.4 487.3,240.1 487.7,240.5 488.2,240.8 488.6,241.1 489.0,241.2 489.4,241.3 489.8,241.2 490.2,241.2 490.7,241.1 491.1,241.0 491.5,240.9 491.9,240.7 492.3,240.4 492.8,240.0 493.2,239.5 493.6,238.9 494.0,238.3 494.4,237.4 494.9,236.6 495.3,235.6 495.7,234.6 496.1,233.4 496.5,232.3 496.9,231.1 497.4,230.0 497.8,228.9 498.2,228.0 498.6,227.1 499.0,226.5 499.5,226.1 499.9,225.9 500.3,226.0 500.7,226.3 501.1,226.8 501.5,227.4 502.0,228.2 502.4,229.2 502.8,230.3 503.2,231.6 503.6,232.8 504.1,233.9 504.5,235.1 504.9,236.1 505.3,237.1 505.7,237.8 506.2,238.6 506.6,239.3 507.0,240.0 507.4,240.4 507.8,240.8 508.2,241.2 508.7,241.4 509.1,241.5 509.5,241.6 509.9,241.8 510.3,241.9 510.8,242.0 511.2,242.0 511.6,242.0 512.0,242.0 512.4,242.0 512.8,242.1 513.3,242.1 513.7,242.1 514.1,242.1 514.5,242.1 514.9,242.1 515.4,242.2 515.8,242.2 516.2,242.2 516.6,242.2 517.0,242.2 517.5,242.2 517.9,242.1 518.3,242.1 518.7,242.2 519.1,242.2 519.5,242.3 520.0,242.3 520.4,242.3 520.8,242.2 521.2,242.2 521.6,242.3 522.1,242.3 522.5,242.3 522.9,242.3 523.3,242.3 523.7,242.3 524.1,242.2 524.6,242.3 525.0,242.3 525.4,242.3 525.8,242.3 526.2,242.4 526.7,242.4 527.1,242.4 527.5,242.4 527.9,242.4 528.3,242.3 528.8,242.3 529.2,242.2 529.6,242.2 530.0,242.3 530.4,242.3 530.8,242.4 531.3,242.3 531.7,242.3 532.1,242.3 532.5,242.3 532.9,242.3 533.4,242.4 533.8,242.4 534.2,242.4 534.6,242.3 535.0,242.4 535.4,242.4 535.9,242.4 536.3,242.4 536.7,242.4 537.1,242.4 537.5,242.4 538.0,242.4 538.4,242.4 538.8,242.3 539.2,242.3 539.6,242.4 540.1,242.4 540.5,242.4 540.9,242.4 541.3,242.4 541.7,242.5 542.1,242.5 542.6,242.5 543.0,242.4 543.4,242.4 543.8,242.4 544.2,242.4 544.7,242.4 545.1,242.4 545.5,242.4 545.9,242.4 546.3,242.4 546.7,242.5 547.2,242.4 547.6,242.4 548.0,242.5 548.4,242.5 548.8,242.5 549.3,242.5 549.7,242.4 550.1,242.4 550.5,242.4 550.9,242.4 551.4,242.4 551.8,242.4 552.2,242.4 552.6,242.4 553.0,242.3 553.4,242.4 553.9,242.4 554.3,242.5 554.7,242.5 555.1,242.5 555.5,242.5 556.0,242.5 556.4,242.5 556.8,242.5 557.2,242.4 557.6,242.5 558.0,242.5 558.5,242.6 558.9,242.5 559.3,242.5 559.7,242.4 560.1,242.5 560.6,242.5 561.0,242.5 561.4,242.5 561.8,242.4 562.2,242.4 562.6,242.5" fill="none" stroke="#000000" stroke-width="1.85" stroke-linejoin="round" stroke-linecap="round"/>
<polyline points="353.4,233.9 353.8,232.4 354.2,231.0 354.7,229.7 355.1,228.6 355.5,227.8 355.9,227.4 356.3,227.4 356.7,228.0 357.2,229.2 357.6,230.8 358.0,232.8 358.4,234.8 358.8,236.7 359.3,238.3 359.7,239.5 360.1,240.5 360.5,241.2 360.9,241.6 361.4,241.9 361.8,242.1 362.2,242.2 362.6,242.3 363.0,242.3 363.4,242.3 363.9,242.3 364.3,242.3 364.7,242.3 365.1,242.3 365.5,242.3 366.0,242.3 366.4,242.4 366.8,242.4 367.2,242.3 367.6,242.3 368.0,242.3 368.5,242.3 368.9,242.3 369.3,242.4 369.7,242.4 370.1,242.4 370.6,242.3 371.0,242.3 371.4,242.3 371.8,242.3 372.2,242.3 372.7,242.2 373.1,242.1 373.5,242.1 373.9,242.0 374.3,241.9 374.7,241.9 375.2,241.9 375.6,241.8 376.0,241.8 376.4,241.7 376.8,241.8 377.3,241.8 377.7,241.8 378.1,241.8 378.5,241.8 378.9,241.9 379.3,241.9 379.8,242.1 380.2,242.1 380.6,242.1 381.0,242.1 381.4,242.2 381.9,242.3 382.3,242.3 382.7,242.3 383.1,242.3 383.5,242.3 384.0,242.3 384.4,242.2 384.8,242.3 385.2,242.3 385.6,242.3 386.0,242.3 386.5,242.2 386.9,242.2 387.3,242.2 387.7,242.2 388.1,242.1 388.6,242.1 389.0,242.1 389.4,242.1 389.8,242.0 390.2,241.9 390.6,241.7 391.1,241.5 391.5,241.2 391.9,240.9 392.3,240.4 392.7,239.9 393.2,239.2 393.6,238.5 394.0,237.7 394.4,236.9 394.8,236.0 395.2,235.1 395.7,234.4 396.1,233.8 396.5,233.4 396.9,233.0 397.3,232.9 397.8,232.9 398.2,233.2 398.6,233.7 399.0,234.4 399.4,235.1 399.9,236.0 400.3,236.8 400.7,237.6 401.1,238.3 401.5,239.2 401.9,239.8 402.4,240.4 402.8,240.7 403.2,241.0 403.6,241.3 404.0,241.5 404.5,241.7 404.9,241.8 405.3,241.9 405.7,241.9 406.1,241.9 406.5,241.9 407.0,241.9 407.4,242.0 407.8,241.9 408.2,241.9 408.6,241.9 409.1,241.9 409.5,241.8 409.9,241.8 410.3,241.8 410.7,241.9 411.2,241.9 411.6,241.9 412.0,241.9 412.4,241.9 412.8,241.8 413.2,241.8 413.7,241.8 414.1,241.8 414.5,241.8 414.9,241.8 415.3,241.7 415.8,241.7 416.2,241.7 416.6,241.7 417.0,241.8 417.4,241.8 417.8,241.7 418.3,241.7 418.7,241.7 419.1,241.7 419.5,241.7 419.9,241.7 420.4,241.6 420.8,241.6 421.2,241.5 421.6,241.6 422.0,241.6 422.5,241.6 422.9,241.6 423.3,241.5 423.7,241.5 424.1,241.5 424.5,241.5 425.0,241.5 425.4,241.5 425.8,241.5 426.2,241.5 426.6,241.6 427.1,241.6 427.5,241.5 427.9,241.5 428.3,241.5 428.7,241.4 429.1,241.4 429.6,241.4 430.0,241.4 430.4,241.3 430.8,241.4 431.2,241.4 431.7,241.4 432.1,241.3 432.5,241.3 432.9,241.3 433.3,241.3 433.8,241.3 434.2,241.3 434.6,241.3 435.0,241.3 435.4,241.2 435.8,241.2 436.3,241.2 436.7,241.1 437.1,241.2 437.5,241.1 437.9,241.1 438.4,241.1 438.8,241.2 439.2,241.1 439.6,241.1 440.0,241.1 440.4,241.1 440.9,241.1 441.3,241.1 441.7,241.1 442.1,241.1 442.5,241.1 443.0,241.1 443.4,241.1 443.8,241.1 444.2,241.1 444.6,241.1 445.1,241.1 445.5,241.0 445.9,241.0 446.3,240.9 446.7,241.0 447.1,241.0 447.6,241.0 448.0,240.9 448.4,240.9 448.8,240.9 449.2,241.0 449.7,240.9 450.1,240.8 450.5,240.5 450.9,240.3 451.3,239.8 451.7,239.3 452.2,238.5 452.6,237.6 453.0,236.2 453.4,234.4 453.8,232.1 454.3,229.4 454.7,226.3 455.1,222.7 455.5,218.6 455.9,214.3 456.4,210.1 456.8,206.0 457.2,202.3 457.6,199.3 458.0,197.1 458.4,195.8 458.9,195.7 459.3,196.7 459.7,198.8 460.1,201.6 460.5,205.3 461.0,209.2 461.4,213.4 461.8,217.7 462.2,221.8 462.6,225.5 463.0,228.8 463.5,231.7 463.9,234.0 464.3,235.9 464.7,237.3 465.1,238.4 465.6,239.3 466.0,239.8 466.4,240.3 466.8,240.5 467.2,240.6 467.7,240.5 468.1,240.5 468.5,240.3 468.9,240.1 469.3,239.5 469.7,238.9 470.2,237.9 470.6,236.7 471.0,235.1 471.4,233.2 471.8,230.7 472.3,227.6 472.7,223.7 473.1,219.2 473.5,214.1 473.9,208.5 474.3,202.3 474.8,195.8 475.2,189.1 475.6,182.6 476.0,176.4 476.4,170.9 476.9,166.3 477.3,162.8 477.7,160.6 478.1,159.8 478.5,160.5 478.9,162.7 479.4,166.2 479.8,170.9 480.2,176.5 480.6,182.7 481.0,189.2 481.5,195.9 481.9,202.4 482.3,208.6 482.7,214.3 483.1,219.4 483.6,223.9 484.0,227.7 484.4,230.9 484.8,233.5 485.2,235.6 485.6,237.2 486.1,238.5 486.5,239.3 486.9,239.9 487.3,240.4 487.7,240.7 488.2,241.0 488.6,241.2 489.0,241.2 489.4,241.2 489.8,241.1 490.2,241.0 490.7,240.9 491.1,240.8 491.5,240.5 491.9,240.1 492.3,239.5 492.8,239.0 493.2,238.3 493.6,237.4 494.0,236.4 494.4,235.2 494.9,233.9 495.3,232.5 495.7,230.9 496.1,229.3 496.5,227.6 496.9,225.8 497.4,224.1 497.8,222.5 498.2,221.1 498.6,219.9 499.0,218.9 499.5,218.2 499.9,217.9 500.3,218.0 500.7,218.4 501.1,219.1 501.5,220.1 502.0,221.4 502.4,222.9 502.8,224.4 503.2,226.2 503.6,228.0 504.1,229.8 504.5,231.5 504.9,233.0 505.3,234.5 505.7,235.8 506.2,237.1 506.6,238.1 507.0,238.9 507.4,239.5 507.8,240.1 508.2,240.6 508.7,240.9 509.1,241.3 509.5,241.5 509.9,241.6 510.3,241.7 510.8,241.7 511.2,241.8 511.6,241.9 512.0,242.0 512.4,242.0 512.8,242.1 513.3,242.0 513.7,242.0 514.1,242.0 514.5,242.1 514.9,242.1 515.4,242.1 515.8,242.1 516.2,242.1 516.6,242.1 517.0,242.0 517.5,242.0 517.9,242.0 518.3,242.1 518.7,242.1 519.1,242.1 519.5,242.1 520.0,242.1 520.4,242.1 520.8,242.2 521.2,242.2 521.6,242.2 522.1,242.1 522.5,242.1 522.9,242.1 523.3,242.2 523.7,242.2 524.1,242.2 524.6,242.2 525.0,242.2 525.4,242.3 525.8,242.2 526.2,242.2 526.7,242.2 527.1,242.2 527.5,242.2 527.9,242.2 528.3,242.3 528.8,242.3 529.2,242.2 529.6,242.3 530.0,242.3 530.4,242.3 530.8,242.2 531.3,242.2 531.7,242.2 532.1,242.2 532.5,242.4 532.9,242.4 533.4,242.4 533.8,242.3 534.2,242.3 534.6,242.3 535.0,242.3 535.4,242.2 535.9,242.3 536.3,242.3 536.7,242.3 537.1,242.3 537.5,242.3 538.0,242.3 538.4,242.3 538.8,242.3 539.2,242.3 539.6,242.3 540.1,242.3 540.5,242.3 540.9,242.3 541.3,242.3 541.7,242.3 542.1,242.4 542.6,242.4 543.0,242.4 543.4,242.3 543.8,242.3 544.2,242.2 544.7,242.3 545.1,242.2 545.5,242.3 545.9,242.3 546.3,242.3 546.7,242.2 547.2,242.2 547.6,242.3 548.0,242.4 548.4,242.4 548.8,242.4 549.3,242.4 549.7,242.4 550.1,242.4 550.5,242.3 550.9,242.4 551.4,242.3 551.8,242.3 552.2,242.3 552.6,242.4 553.0,242.4 553.4,242.3 553.9,242.3 554.3,242.3 554.7,242.4 555.1,242.4 555.5,242.4 556.0,242.4 556.4,242.5 556.8,242.5 557.2,242.4 557.6,242.4 558.0,242.4 558.5,242.4 558.9,242.3 559.3,242.3 559.7,242.4 560.1,242.4 560.6,242.4 561.0,242.4 561.4,242.4 561.8,242.4 562.2,242.4 562.6,242.4" fill="none" stroke="#ff0000" stroke-width="1.85" stroke-linejoin="round" stroke-linecap="round"/>
<g font-size="13.5" fill="#000">
<text x="142.2" y="29.5">Mg</text>
<text x="186.2" y="106.1">Si</text>
<text x="63.8" y="173.5">C</text>
<text x="85.0" y="158.0">O</text>
<text x="142.5" y="175.8">Mg</text>
<text x="186.6" y="210.4">Si</text>
<text x="165.6" y="239.0">Al</text>
<text x="370.2" y="235.6">C</text>
<text x="392.0" y="227.0">O</text>
<text x="448.0" y="183.2">Mg</text>
<text x="472.2" y="118.8">Al</text>
<text x="494.6" y="210.4">Si</text>
</g>
<text x="5.4" y="23.7" font-size="18.2" fill="#000">(a)</text>
<text x="311.5" y="23.6" font-size="18.5" fill="#000">(b)</text>
<g font-weight="bold" fill="#000" font-size="15.5">
<text x="151.2" y="287.2" text-anchor="middle">keV</text>
<text x="458" y="287.2" text-anchor="middle">keV</text>
<text transform="translate(13.4,135.7) rotate(-90)" text-anchor="middle">Counts</text>
<text transform="translate(318.3,135.9) rotate(-90)" text-anchor="middle">Counts</text>
</g>
<rect x="147.2" y="111.7" width="149.4" height="49.7" fill="#fff" stroke="#cccccc" stroke-width="1"/>
<g font-size="10.02" fill="#000">
<path d="M148.2,118.2H170.6" stroke="#ff0000" stroke-width="1.8"/>
<text x="173.6" y="122.1">A: Magnesium-rich Silicide</text>
<path d="M148.2,130.4H170.6" stroke="#000000" stroke-width="1.8"/>
<text x="173.6" y="134.3">B: Magnesium-poor Silicide</text>
<path d="M148.2,142.7H170.6" stroke="#00dd00" stroke-width="1.8"/>
<text x="173.6" y="146.6">Rod-like Corrosion Product</text>
<path d="M148.2,154.9H170.6" stroke="#0000ff" stroke-width="1.8"/>
<text x="173.6" y="158.8">Difference (A - B)</text>
</g>
<rect x="428.0" y="1.5" width="174.2" height="30.1" fill="#fff" stroke="#cccccc" stroke-width="1"/>
<g font-size="11.65" fill="#000">
<path d="M429.2,9.3H455.8" stroke="#000000" stroke-width="1.9"/>
<text x="458.4" y="13.0">A: Magnesium-rich Silicide</text>
<path d="M429.2,23.5H455.8" stroke="#ff0000" stroke-width="1.9"/>
<text x="458.4" y="27.2">B: Magnesium-poor Silicide</text>
</g>
</svg>
</body></html>
